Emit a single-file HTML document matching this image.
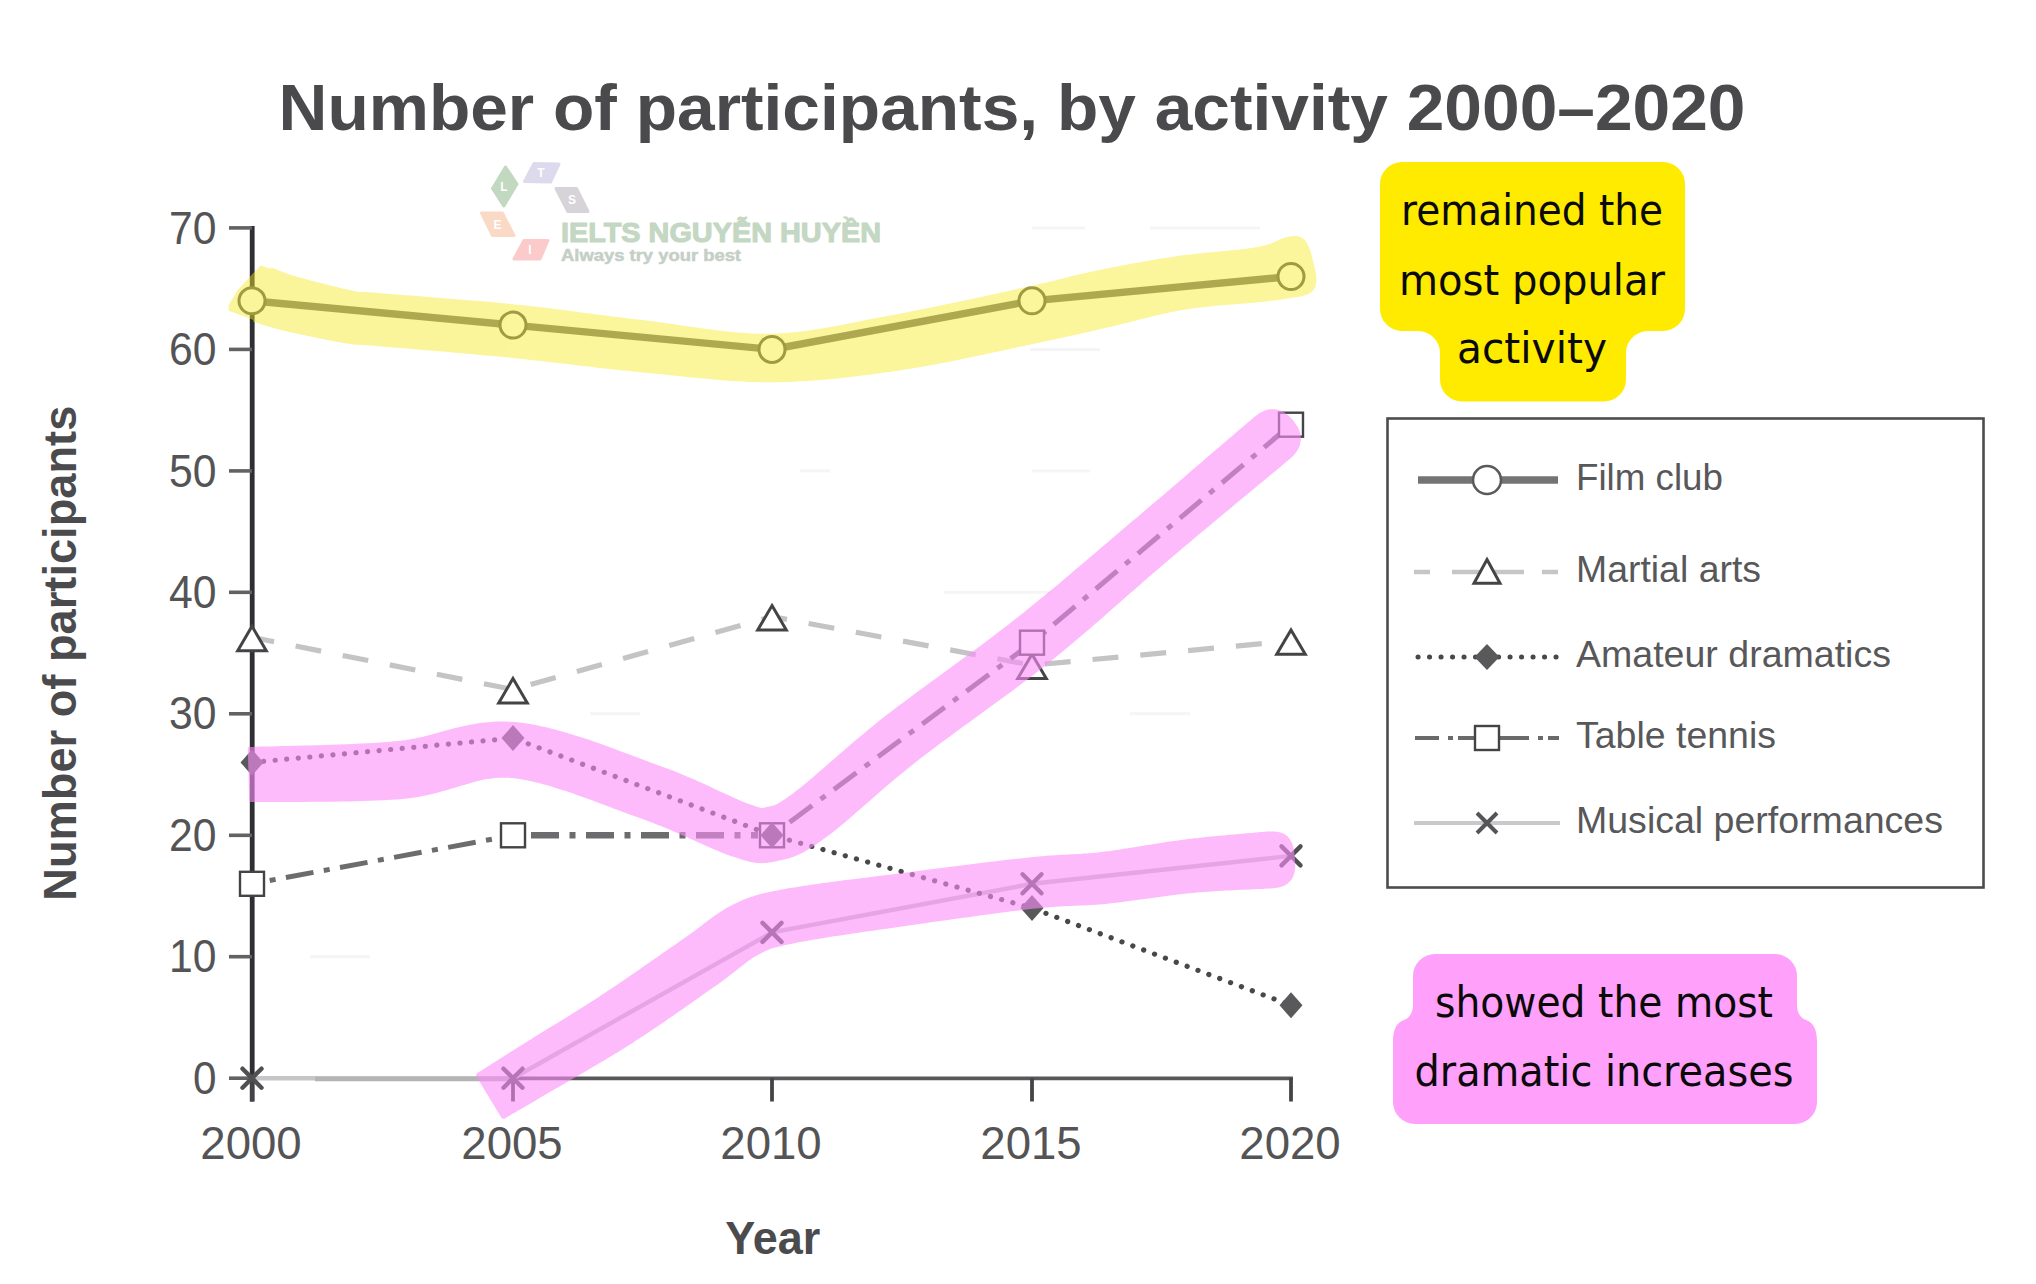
<!DOCTYPE html><html><head><meta charset="utf-8"><title>Number of participants, by activity 2000–2020</title>
<style>html,body{margin:0;padding:0;background:#fff}svg{display:block}text{font-family:"Liberation Sans",sans-serif}</style></head><body>
<svg width="2036" height="1284" viewBox="0 0 2036 1284">
<rect width="2036" height="1284" fill="#fff"/>
<text x="1012" y="130" text-anchor="middle" font-size="65" font-weight="bold" fill="#4a4a4c" textLength="1467" lengthAdjust="spacingAndGlyphs">Number of participants, by activity 2000–2020</text>
<g stroke-linejoin="round" stroke-width="3">
<polygon points="505.5,167 517,184 503.8,206 492.5,188.5" fill="#c3d8c1" stroke="#c3d8c1"/>
<polygon points="534,163.5 559,164 550.5,182 524.5,181.5" fill="#dedaee" stroke="#dedaee"/>
<polygon points="556,188.5 576.5,188.5 588,211.5 567.8,211.5" fill="#d6d4d9" stroke="#d6d4d9"/>
<polygon points="481.5,213 502.3,213 514,235.5 492.5,235.5" fill="#fad9c6" stroke="#fad9c6"/>
<polygon points="524,240.5 548,240.5 540,259 514,259" fill="#fbcaca" stroke="#fbcaca"/>
</g><g font-size="12" fill="#fff" text-anchor="middle" font-weight="bold">
<text x="504" y="191">L</text>
<text x="541" y="177">T</text>
<text x="572" y="204">S</text>
<text x="497.5" y="229">E</text>
<text x="530" y="254">I</text>
</g>
<text x="561" y="242" font-size="28.5" font-weight="bold" fill="#c3d7c2" stroke="#c3d7c2" stroke-width="1.1" stroke-linejoin="round" textLength="320" lengthAdjust="spacingAndGlyphs">IELTS NGUYỄN HUYỀN</text>
<text x="561" y="261" font-size="16" font-weight="bold" fill="#c5cfc6" stroke="#c5cfc6" stroke-width="0.5" textLength="180" lengthAdjust="spacingAndGlyphs">Always try your best</text>
<line x1="1032" x2="1085" y1="227.9" y2="227.9" stroke="#f5f5f5" stroke-width="3"/>
<line x1="1150" x2="1260" y1="227.9" y2="227.9" stroke="#f5f5f5" stroke-width="3"/>
<line x1="1032" x2="1090" y1="470.9" y2="470.9" stroke="#f5f5f5" stroke-width="3"/>
<line x1="944" x2="1052" y1="592.3" y2="592.3" stroke="#f5f5f5" stroke-width="3"/>
<line x1="1130" x2="1190" y1="713.8" y2="713.8" stroke="#f5f5f5" stroke-width="3"/>
<line x1="1030" x2="1100" y1="349.4" y2="349.4" stroke="#f5f5f5" stroke-width="3"/>
<line x1="310" x2="370" y1="956.7" y2="956.7" stroke="#f5f5f5" stroke-width="3"/>
<line x1="590" x2="640" y1="713.8" y2="713.8" stroke="#f5f5f5" stroke-width="3"/>
<line x1="800" x2="830" y1="470.9" y2="470.9" stroke="#f5f5f5" stroke-width="3"/>
<line x1="252.2" x2="252.2" y1="226" y2="1101.5" stroke="#2e2e33" stroke-width="4.8"/>
<line x1="513" x2="1293" y1="1078.4" y2="1078.4" stroke="#58585b" stroke-width="3.6"/>
<line x1="229" x2="252" y1="1078.2" y2="1078.2" stroke="#626266" stroke-width="3.6"/>
<text x="216.5" y="1093.8" text-anchor="end" font-size="46.5" fill="#545456" textLength="23.5" lengthAdjust="spacingAndGlyphs">0</text>
<line x1="229" x2="252" y1="956.7" y2="956.7" stroke="#626266" stroke-width="3.6"/>
<text x="216.5" y="972.3000000000001" text-anchor="end" font-size="46.5" fill="#545456" textLength="47.5" lengthAdjust="spacingAndGlyphs">10</text>
<line x1="229" x2="252" y1="835.3" y2="835.3" stroke="#626266" stroke-width="3.6"/>
<text x="216.5" y="850.9" text-anchor="end" font-size="46.5" fill="#545456" textLength="47.5" lengthAdjust="spacingAndGlyphs">20</text>
<line x1="229" x2="252" y1="713.8" y2="713.8" stroke="#626266" stroke-width="3.6"/>
<text x="216.5" y="729.4" text-anchor="end" font-size="46.5" fill="#545456" textLength="47.5" lengthAdjust="spacingAndGlyphs">30</text>
<line x1="229" x2="252" y1="592.3" y2="592.3" stroke="#626266" stroke-width="3.6"/>
<text x="216.5" y="607.9" text-anchor="end" font-size="46.5" fill="#545456" textLength="47.5" lengthAdjust="spacingAndGlyphs">40</text>
<line x1="229" x2="252" y1="470.9" y2="470.9" stroke="#626266" stroke-width="3.6"/>
<text x="216.5" y="486.5" text-anchor="end" font-size="46.5" fill="#545456" textLength="47.5" lengthAdjust="spacingAndGlyphs">50</text>
<line x1="229" x2="252" y1="349.4" y2="349.4" stroke="#626266" stroke-width="3.6"/>
<text x="216.5" y="365.0" text-anchor="end" font-size="46.5" fill="#545456" textLength="47.5" lengthAdjust="spacingAndGlyphs">60</text>
<line x1="229" x2="252" y1="227.9" y2="227.9" stroke="#626266" stroke-width="3.6"/>
<text x="216.5" y="243.5" text-anchor="end" font-size="46.5" fill="#545456" textLength="47.5" lengthAdjust="spacingAndGlyphs">70</text>
<line x1="252" x2="252" y1="1078" y2="1101.5" stroke="#444448" stroke-width="3.8"/>
<text x="251" y="1158.8" text-anchor="middle" font-size="45.6" fill="#545456">2000</text>
<line x1="513" x2="513" y1="1078" y2="1101.5" stroke="#444448" stroke-width="3.8"/>
<text x="512" y="1158.8" text-anchor="middle" font-size="45.6" fill="#545456">2005</text>
<line x1="772" x2="772" y1="1078" y2="1101.5" stroke="#444448" stroke-width="3.8"/>
<text x="771" y="1158.8" text-anchor="middle" font-size="45.6" fill="#545456">2010</text>
<line x1="1032" x2="1032" y1="1078" y2="1101.5" stroke="#444448" stroke-width="3.8"/>
<text x="1031" y="1158.8" text-anchor="middle" font-size="45.6" fill="#545456">2015</text>
<line x1="1291" x2="1291" y1="1078" y2="1101.5" stroke="#444448" stroke-width="3.8"/>
<text x="1290" y="1158.8" text-anchor="middle" font-size="45.6" fill="#545456">2020</text>
<text x="772.8" y="1253.6" text-anchor="middle" font-size="46.5" font-weight="bold" fill="#4b4b4e" textLength="95" lengthAdjust="spacingAndGlyphs">Year</text>
<text transform="translate(75.8,653.2) rotate(-90)" text-anchor="middle" font-size="46.5" font-weight="bold" fill="#4b4b4e" textLength="495" lengthAdjust="spacingAndGlyphs">Number of participants</text>
<polyline points="252,1078.2 513,1078.2 772,932.4 1032,883.8 1291,855.9" fill="none" stroke="#c6c6c8" stroke-width="4.4"/>
<line x1="315" x2="513" y1="1079" y2="1079" stroke="#b4b4b6" stroke-width="4.6"/>
<polyline points="252,637.3 513,689.5 772,616.6 1032,665.2 1291,640.9" fill="none" stroke="#c4c4c6" stroke-width="5.2" stroke-dasharray="26 22" stroke-dashoffset="3.5"/>
<polyline points="252,762.4 513,738.1 772,835.3 1032,908.1 1291,1005.3" fill="none" stroke="#48484b" stroke-width="5.2" stroke-dasharray="0.1 11.5" stroke-linecap="round"/>
<polyline points="252,883.8 513,835.3" fill="none" stroke="#6c6c6f" stroke-width="5" stroke-dasharray="28 10.5 6 10.5" stroke-dashoffset="20.5"/>
<polyline points="772,835.3 1032,642.7 1291,424.7" fill="none" stroke="#6c6c6f" stroke-width="5" stroke-dasharray="28 10.5 6 10.5" stroke-dashoffset="-22"/>
<line x1="527" x2="758" y1="835.3" y2="835.3" stroke="#6c6c6f" stroke-width="6.4" stroke-dasharray="28 10.5 6 10.5" stroke-dashoffset="-4"/>
<polyline points="252,300.8 513,325.1 772,349.4 1032,300.8 1291,276.5" fill="none" stroke="#747477" stroke-width="7.4"/>
<path d="M242.5,1068.7L261.5,1087.7M242.5,1087.7L261.5,1068.7" stroke="#505053" stroke-width="4.4" stroke-linecap="round" fill="none"/>
<path d="M503.5,1068.7L522.5,1087.7M503.5,1087.7L522.5,1068.7" stroke="#505053" stroke-width="4.4" stroke-linecap="round" fill="none"/>
<path d="M762.5,922.9L781.5,941.9M762.5,941.9L781.5,922.9" stroke="#505053" stroke-width="4.4" stroke-linecap="round" fill="none"/>
<path d="M1022.5,874.3L1041.5,893.3M1022.5,893.3L1041.5,874.3" stroke="#505053" stroke-width="4.4" stroke-linecap="round" fill="none"/>
<path d="M1281.5,846.4L1300.5,865.4M1281.5,865.4L1300.5,846.4" stroke="#505053" stroke-width="4.4" stroke-linecap="round" fill="none"/>
<polygon points="252,626.3 266.3,650.6999999999999 237.7,650.6999999999999" fill="#fff" stroke="#444447" stroke-width="3"/>
<polygon points="513,678.5 527.3,702.9 498.7,702.9" fill="#fff" stroke="#444447" stroke-width="3"/>
<polygon points="772,605.6 786.3,630.0 757.7,630.0" fill="#fff" stroke="#444447" stroke-width="3"/>
<polygon points="1032,654.2 1046.3,678.6 1017.7,678.6" fill="#fff" stroke="#444447" stroke-width="3"/>
<polygon points="1291,629.9 1305.3,654.3 1276.7,654.3" fill="#fff" stroke="#444447" stroke-width="3"/>
<rect x="240" y="871.8" width="24" height="24" fill="#fff" stroke="#444446" stroke-width="2.4"/>
<rect x="501" y="823.3" width="24" height="24" fill="#fff" stroke="#444446" stroke-width="2.4"/>
<rect x="760" y="823.3" width="24" height="24" fill="#fff" stroke="#444446" stroke-width="2.4"/>
<rect x="1020" y="630.7" width="24" height="24" fill="#fff" stroke="#444446" stroke-width="2.4"/>
<rect x="1279" y="412.7" width="24" height="24" fill="#fff" stroke="#444446" stroke-width="2.4"/>
<polygon points="252,749.4 263.5,762.4 252,775.4 240.5,762.4" fill="#59595c"/>
<polygon points="513,725.1 524.5,738.1 513,751.1 501.5,738.1" fill="#59595c"/>
<polygon points="772,822.3 783.5,835.3 772,848.3 760.5,835.3" fill="#59595c"/>
<polygon points="1032,895.1 1043.5,908.1 1032,921.1 1020.5,908.1" fill="#59595c"/>
<polygon points="1291,992.3 1302.5,1005.3 1291,1018.3 1279.5,1005.3" fill="#59595c"/>
<circle cx="252" cy="300.8" r="13" fill="#fff" stroke="#5a5a5d" stroke-width="3"/>
<circle cx="513" cy="325.1" r="13" fill="#fff" stroke="#5a5a5d" stroke-width="3"/>
<circle cx="772" cy="349.4" r="13" fill="#fff" stroke="#5a5a5d" stroke-width="3"/>
<circle cx="1032" cy="300.8" r="13" fill="#fff" stroke="#5a5a5d" stroke-width="3"/>
<circle cx="1291" cy="276.5" r="13" fill="#fff" stroke="#5a5a5d" stroke-width="3"/>
<g opacity="0.45" fill="#f6e921"><path d="M253.0,321.5 L253.4,321.7 L253.8,321.8 L254.3,321.9 L255.0,322.1 L255.7,322.4 L256.5,322.7 L257.4,323.0 L258.4,323.3 L259.4,323.6 L260.5,324.0 L261.7,324.4 L263.0,324.8 L264.3,325.3 L265.7,325.7 L267.1,326.1 L268.7,326.6 L270.2,327.1 L271.9,327.5 L273.6,328.0 L275.4,328.5 L277.2,329.0 L279.1,329.5 L281.0,330.0 L283.0,330.5 L285.1,330.9 L287.2,331.4 L289.4,331.9 L291.8,332.5 L294.3,333.0 L296.9,333.6 L299.5,334.2 L302.2,334.7 L305.0,335.3 L307.8,335.9 L310.6,336.5 L313.5,337.1 L316.3,337.7 L319.1,338.3 L321.9,338.8 L324.7,339.4 L327.4,339.9 L330.1,340.5 L332.7,341.0 L335.2,341.4 L337.6,341.9 L339.9,342.3 L342.1,342.7 L344.2,343.1 L345.9,343.4 L347.4,343.6 L348.6,343.8 L349.7,344.0 L350.8,344.1 L351.8,344.3 L352.9,344.4 L354.1,344.6 L355.3,344.7 L356.5,344.7 L357.5,344.8 L358.2,344.8 L358.6,344.8 L359.0,344.8 L359.5,344.8 L360.1,344.8 L360.9,344.9 L361.9,344.9 L363.2,345.0 L364.8,345.1 L366.7,345.2 L369.0,345.4 L371.7,345.6 L374.8,345.9 L378.4,346.2 L382.3,346.6 L386.6,346.9 L391.2,347.3 L396.1,347.7 L401.3,348.1 L406.6,348.6 L412.2,349.1 L418.0,349.5 L423.9,350.0 L429.9,350.5 L436.1,351.1 L442.3,351.6 L448.6,352.1 L454.9,352.7 L461.3,353.2 L467.6,353.8 L473.9,354.3 L480.1,354.9 L486.2,355.4 L492.3,356.0 L498.1,356.5 L503.8,357.1 L509.3,357.6 L514.7,358.2 L520.0,358.7 L525.4,359.3 L530.7,359.9 L536.0,360.4 L541.3,361.0 L546.5,361.7 L551.8,362.3 L557.1,362.9 L562.4,363.5 L567.6,364.1 L572.9,364.8 L578.2,365.4 L583.5,366.0 L588.8,366.6 L594.1,367.3 L599.4,367.9 L604.8,368.5 L610.1,369.1 L615.5,369.7 L620.9,370.2 L626.4,370.8 L631.8,371.3 L637.3,371.9 L642.6,372.4 L647.9,372.9 L653.3,373.4 L658.7,374.0 L664.1,374.6 L669.6,375.2 L675.2,375.8 L680.7,376.3 L686.3,376.9 L691.9,377.5 L697.5,378.1 L703.2,378.6 L708.9,379.1 L714.6,379.6 L720.3,380.1 L726.0,380.6 L731.8,381.0 L737.6,381.3 L743.3,381.6 L749.1,381.9 L754.9,382.1 L760.7,382.2 L766.6,382.3 L772.4,382.2 L778.1,382.2 L783.8,382.0 L789.5,381.9 L795.2,381.6 L800.8,381.3 L806.4,381.0 L812.0,380.6 L817.6,380.2 L823.1,379.7 L828.7,379.3 L834.2,378.7 L839.7,378.2 L845.1,377.6 L850.6,376.9 L856.0,376.3 L861.5,375.6 L866.9,374.9 L872.3,374.2 L877.7,373.5 L883.1,372.7 L888.5,372.0 L893.8,371.2 L899.2,370.4 L904.6,369.6 L910.2,368.8 L916.0,367.8 L921.8,366.8 L927.7,365.8 L933.7,364.7 L939.7,363.6 L945.7,362.4 L951.7,361.2 L957.7,360.0 L963.7,358.8 L969.7,357.5 L975.7,356.3 L981.5,355.1 L987.3,353.8 L993.0,352.6 L998.6,351.4 L1004.1,350.2 L1009.5,349.0 L1014.7,347.9 L1019.7,346.8 L1024.6,345.7 L1029.2,344.7 L1033.7,343.8 L1038.0,342.9 L1042.0,342.0 L1045.9,341.2 L1049.6,340.4 L1053.1,339.7 L1056.4,339.0 L1059.6,338.3 L1062.6,337.7 L1065.5,337.0 L1068.2,336.4 L1070.9,335.8 L1073.5,335.3 L1075.9,334.7 L1078.4,334.2 L1080.8,333.6 L1083.1,333.1 L1085.5,332.6 L1087.9,332.0 L1090.3,331.5 L1092.7,330.9 L1095.2,330.3 L1097.8,329.8 L1100.4,329.1 L1103.2,328.5 L1106.2,327.8 L1109.3,327.1 L1112.5,326.4 L1115.7,325.6 L1118.9,324.8 L1122.1,324.0 L1125.4,323.2 L1128.7,322.4 L1132.0,321.5 L1135.3,320.7 L1138.6,319.8 L1141.9,319.0 L1145.2,318.2 L1148.5,317.4 L1151.8,316.5 L1155.1,315.7 L1158.4,315.0 L1161.7,314.2 L1164.9,313.5 L1168.2,312.8 L1171.4,312.1 L1174.7,311.4 L1177.9,310.8 L1181.0,310.2 L1184.1,309.7 L1187.3,309.2 L1190.4,308.7 L1193.7,308.3 L1197.1,307.8 L1200.5,307.4 L1204.0,307.0 L1207.5,306.7 L1211.1,306.3 L1214.6,306.0 L1218.2,305.6 L1221.8,305.3 L1225.3,305.0 L1228.9,304.7 L1232.4,304.4 L1235.8,304.2 L1239.2,303.9 L1242.6,303.6 L1245.9,303.4 L1249.1,303.1 L1252.2,302.9 L1255.2,302.6 L1258.2,302.3 L1261.1,302.0 L1263.8,301.7 L1266.4,301.4 L1268.9,301.1 L1271.3,300.8 L1273.7,300.5 L1275.9,300.2 L1278.0,299.9 L1280.0,299.7 L1282.0,299.4 L1283.9,299.1 L1285.7,298.8 L1287.3,298.5 L1289.0,298.3 L1290.5,298.0 L1291.9,297.8 L1293.2,297.6 L1294.5,297.4 L1295.6,297.2 L1296.6,297.0 L1297.5,296.9 L1298.3,296.8 L1298.9,296.7 L1299.3,296.7 L1299.6,296.7 L1300.1,296.7 L1307.4,294.5 L1311.0,292.6 L1313.5,290.1 L1315.2,287.0 L1316.1,283.3 L1316.4,278.7 L1315.8,273.0 L1313.4,262.1 L1310.6,251.4 L1308.5,246.0 L1306.3,242.0 L1303.8,239.1 L1300.9,237.2 L1297.5,236.1 L1293.4,235.9 L1285.9,237.3 L1285.0,237.6 L1283.8,238.0 L1282.7,238.4 L1281.6,238.8 L1280.7,239.2 L1279.7,239.6 L1278.8,240.0 L1277.9,240.5 L1277.0,240.9 L1276.0,241.3 L1275.1,241.7 L1274.0,242.2 L1273.0,242.6 L1271.9,243.0 L1270.7,243.5 L1269.4,243.9 L1268.1,244.4 L1266.7,244.8 L1265.2,245.2 L1263.6,245.7 L1261.9,246.1 L1260.1,246.5 L1258.2,246.9 L1256.2,247.3 L1254.1,247.6 L1251.8,248.0 L1249.2,248.3 L1246.6,248.7 L1243.7,249.0 L1240.7,249.3 L1237.6,249.7 L1234.4,250.0 L1231.1,250.3 L1227.6,250.7 L1224.1,251.0 L1220.6,251.4 L1216.9,251.7 L1213.2,252.1 L1209.5,252.4 L1205.8,252.8 L1202.0,253.2 L1198.2,253.6 L1194.4,254.0 L1190.7,254.4 L1186.9,254.8 L1183.2,255.3 L1179.5,255.8 L1175.9,256.3 L1172.3,256.9 L1168.7,257.4 L1165.2,258.0 L1161.6,258.5 L1158.1,259.1 L1154.5,259.7 L1150.9,260.3 L1147.4,260.9 L1143.9,261.5 L1140.3,262.2 L1136.8,262.8 L1133.3,263.4 L1129.9,264.1 L1126.4,264.7 L1123.0,265.4 L1119.6,266.0 L1116.2,266.7 L1112.9,267.3 L1109.6,268.0 L1106.4,268.6 L1103.2,269.3 L1100.0,269.9 L1096.9,270.5 L1093.8,271.2 L1090.8,271.8 L1087.8,272.4 L1085.0,273.1 L1082.2,273.7 L1079.6,274.3 L1077.1,274.9 L1074.6,275.5 L1072.1,276.1 L1069.7,276.7 L1067.3,277.3 L1065.0,277.9 L1062.6,278.5 L1060.1,279.1 L1057.6,279.7 L1055.1,280.4 L1052.5,281.0 L1049.7,281.7 L1046.9,282.4 L1043.8,283.1 L1040.7,283.8 L1037.3,284.6 L1033.8,285.4 L1030.1,286.2 L1026.0,287.1 L1021.7,288.1 L1017.2,289.1 L1012.5,290.1 L1007.6,291.2 L1002.5,292.3 L997.3,293.4 L992.0,294.6 L986.6,295.8 L981.0,297.0 L975.3,298.2 L969.6,299.4 L963.8,300.6 L958.0,301.9 L952.2,303.1 L946.3,304.3 L940.4,305.5 L934.6,306.7 L928.8,307.9 L923.0,309.1 L917.3,310.2 L911.7,311.3 L906.1,312.4 L900.7,313.4 L895.4,314.4 L890.0,315.4 L884.6,316.4 L879.2,317.5 L873.9,318.5 L868.6,319.6 L863.3,320.6 L858.1,321.7 L852.9,322.7 L847.7,323.8 L842.6,324.8 L837.4,325.8 L832.3,326.7 L827.2,327.6 L822.2,328.5 L817.1,329.3 L812.0,330.1 L807.0,330.8 L801.9,331.5 L796.9,332.0 L791.8,332.5 L786.8,333.0 L781.7,333.3 L776.7,333.6 L771.6,333.8 L766.6,333.8 L761.5,333.8 L756.4,333.7 L751.2,333.4 L746.0,333.1 L740.8,332.8 L735.6,332.3 L730.3,331.8 L724.9,331.2 L719.6,330.6 L714.2,330.0 L708.8,329.3 L703.4,328.5 L697.9,327.7 L692.5,327.0 L687.0,326.2 L681.5,325.4 L676.0,324.6 L670.5,323.8 L664.9,323.0 L659.4,322.2 L653.8,321.5 L648.3,320.8 L642.7,320.1 L637.4,319.5 L632.1,318.9 L626.8,318.3 L621.5,317.6 L616.3,317.0 L611.0,316.3 L605.8,315.6 L600.5,314.9 L595.3,314.2 L590.0,313.6 L584.7,312.9 L579.5,312.2 L574.2,311.5 L568.9,310.8 L563.6,310.1 L558.3,309.4 L552.9,308.8 L547.5,308.1 L542.1,307.4 L536.7,306.8 L531.2,306.2 L525.8,305.6 L520.2,305.0 L514.7,304.4 L509.0,303.8 L503.2,303.2 L497.2,302.7 L491.1,302.1 L484.9,301.6 L478.6,301.0 L472.2,300.5 L465.8,299.9 L459.4,299.4 L453.0,298.9 L446.7,298.4 L440.4,297.9 L434.2,297.4 L428.2,296.9 L422.2,296.5 L416.5,296.0 L410.9,295.6 L405.5,295.2 L400.4,294.8 L395.5,294.4 L391.0,294.0 L386.7,293.7 L382.8,293.4 L379.2,293.1 L376.0,292.8 L373.0,292.6 L370.5,292.4 L368.2,292.3 L366.2,292.2 L364.5,292.1 L363.0,292.0 L361.7,292.0 L360.6,292.0 L359.6,292.0 L358.8,292.0 L358.3,292.0 L358.2,292.0 L358.4,292.0 L358.8,292.0 L359.3,292.0 L359.6,292.1 L359.6,292.1 L359.3,292.0 L358.7,291.9 L357.9,291.7 L356.8,291.5 L355.4,291.3 L353.8,290.9 L352.1,290.6 L350.2,290.2 L348.2,289.7 L346.0,289.3 L343.7,288.7 L341.3,288.2 L338.8,287.6 L336.2,287.0 L333.6,286.3 L331.0,285.7 L328.3,285.0 L325.5,284.3 L322.8,283.6 L320.1,282.9 L317.5,282.3 L314.8,281.6 L312.2,280.9 L309.7,280.2 L307.3,279.6 L305.0,279.0 L302.8,278.3 L300.7,277.8 L298.7,277.2 L297.0,276.7 L295.4,276.3 L293.9,275.8 L292.5,275.4 L291.1,274.9 L289.7,274.5 L288.4,274.1 L287.2,273.6 L286.0,273.2 L284.9,272.8 L283.7,272.4 L282.7,272.0 L281.7,271.6 L280.7,271.2 L279.7,270.8 L278.8,270.5 L277.9,270.1 L277.0,269.8 L276.1,269.4 L275.3,269.1 L274.4,268.7 L273.6,268.4 L272.7,268.1 L271.8,267.7 L271.0,267.5Z"/><path d="M285,296 L282,272.5 L260.6,265.5 L249.7,277 L237,291 L228.7,305 L228.7,310.7 L243.5,316 L259,322.4 L266,325 Z"/></g>
<g opacity="0.6" fill="#fc8efa"><path d="M250.7,800.5 L254.0,800.4 L257.8,800.4 L262.2,800.4 L267.1,800.4 L272.4,800.4 L278.1,800.4 L284.2,800.4 L290.6,800.4 L297.2,800.4 L304.1,800.4 L311.2,800.3 L318.4,800.3 L325.8,800.3 L333.2,800.2 L340.6,800.1 L348.0,799.9 L355.4,799.8 L362.7,799.6 L369.8,799.3 L376.8,799.0 L383.6,798.7 L390.2,798.3 L396.5,797.9 L402.7,797.4 L408.8,796.7 L414.8,795.9 L420.7,794.9 L426.3,793.7 L431.7,792.5 L436.9,791.2 L442.0,789.9 L446.8,788.5 L451.5,787.1 L456.0,785.8 L460.4,784.4 L464.6,783.2 L468.7,782.0 L472.7,780.9 L476.6,779.8 L480.5,778.9 L484.2,778.1 L487.9,777.4 L491.6,776.9 L495.3,776.5 L499.0,776.2 L502.8,776.1 L506.7,776.2 L510.7,776.4 L515.0,776.8 L519.6,777.5 L524.4,778.3 L529.4,779.3 L534.7,780.5 L540.0,781.8 L545.5,783.3 L551.2,784.9 L556.9,786.7 L562.6,788.5 L568.5,790.4 L574.3,792.4 L580.2,794.5 L586.1,796.6 L591.9,798.7 L597.7,800.8 L603.5,803.0 L609.2,805.1 L614.8,807.3 L620.3,809.3 L625.7,811.4 L631.0,813.3 L636.2,815.2 L641.1,816.9 L645.6,818.6 L649.9,820.2 L654.3,821.8 L658.5,823.5 L662.7,825.2 L666.9,826.9 L671.0,828.6 L675.1,830.4 L679.1,832.1 L683.0,833.8 L686.9,835.5 L690.7,837.3 L694.4,838.9 L698.1,840.6 L701.7,842.2 L705.2,843.8 L708.7,845.4 L712.1,846.9 L715.5,848.3 L718.8,849.7 L722.0,851.0 L725.2,852.3 L728.4,853.5 L731.4,854.5 L734.0,855.4 L736.4,856.2 L738.6,856.9 L740.7,857.6 L742.7,858.2 L744.6,858.8 L746.5,859.4 L748.4,859.9 L750.3,860.3 L752.3,860.7 L754.3,861.1 L756.4,861.4 L758.6,861.6 L760.7,861.7 L762.9,861.6 L765.0,861.5 L766.9,861.4 L768.7,861.1 L770.4,860.9 L771.9,860.6 L773.4,860.3 L774.7,860.0 L776.1,859.7 L777.5,859.4 L778.9,859.1 L780.3,858.8 L781.8,858.5 L783.4,858.1 L785.0,857.7 L786.7,857.3 L788.5,856.8 L790.4,856.2 L792.3,855.5 L794.2,854.8 L796.2,854.0 L798.2,853.1 L800.2,852.1 L802.3,851.1 L804.3,850.0 L806.4,848.8 L808.5,847.5 L810.7,846.2 L812.9,844.8 L815.2,843.2 L817.6,841.6 L820.1,839.8 L822.7,837.9 L825.5,835.9 L828.5,833.6 L831.6,831.2 L834.8,828.7 L838.0,826.0 L841.3,823.3 L844.7,820.5 L848.1,817.6 L851.6,814.6 L855.1,811.5 L858.8,808.3 L862.5,805.1 L866.2,801.8 L870.1,798.5 L873.9,795.1 L877.9,791.6 L881.9,788.2 L886.0,784.7 L890.1,781.2 L894.3,777.6 L898.6,774.1 L902.9,770.5 L907.2,767.0 L911.6,763.5 L916.0,760.0 L920.6,756.4 L925.4,752.8 L930.3,749.1 L935.3,745.3 L940.5,741.4 L945.8,737.5 L951.3,733.5 L956.8,729.4 L962.4,725.4 L968.1,721.2 L973.8,717.1 L979.6,712.9 L985.4,708.6 L991.2,704.4 L997.1,700.1 L1002.9,695.8 L1008.8,691.5 L1014.6,687.2 L1020.3,682.9 L1026.1,678.5 L1031.7,674.2 L1037.3,669.9 L1042.8,665.6 L1048.2,661.4 L1053.4,657.1 L1058.6,652.9 L1063.8,648.7 L1068.9,644.4 L1073.9,640.2 L1078.9,635.9 L1083.9,631.7 L1088.8,627.5 L1093.7,623.2 L1098.6,619.0 L1103.4,614.8 L1108.2,610.5 L1113.0,606.3 L1117.8,602.1 L1122.6,597.9 L1127.4,593.7 L1132.2,589.5 L1137.0,585.3 L1141.8,581.1 L1146.6,576.9 L1151.5,572.7 L1156.3,568.5 L1161.2,564.3 L1166.2,560.1 L1171.3,555.8 L1176.6,551.3 L1182.1,546.7 L1187.7,542.0 L1193.4,537.1 L1199.3,532.2 L1205.2,527.3 L1211.2,522.3 L1217.1,517.4 L1223.1,512.4 L1229.0,507.5 L1234.8,502.7 L1240.5,497.9 L1246.1,493.3 L1251.5,488.8 L1256.8,484.4 L1261.8,480.3 L1266.6,476.3 L1271.1,472.5 L1275.4,469.0 L1279.3,465.8 L1282.8,462.8 L1286.0,460.2 L1288.8,457.9 L1293.4,453.4 L1296.5,449.2 L1298.4,444.8 L1299.3,440.3 L1299.2,435.7 L1298.0,431.1 L1295.7,426.5 L1291.9,421.2 L1287.4,416.6 L1283.2,413.5 L1278.8,411.6 L1274.3,410.7 L1269.7,410.8 L1265.1,412.0 L1260.5,414.3 L1255.2,418.1 L1252.5,420.5 L1249.4,423.2 L1245.9,426.2 L1242.0,429.5 L1237.8,433.0 L1233.4,436.9 L1228.6,440.9 L1223.7,445.2 L1218.5,449.6 L1213.1,454.2 L1207.6,459.0 L1202.0,463.8 L1196.2,468.7 L1190.4,473.7 L1184.5,478.8 L1178.6,483.8 L1172.7,488.8 L1166.9,493.8 L1161.1,498.8 L1155.3,503.7 L1149.7,508.4 L1144.3,513.1 L1139.0,517.6 L1133.8,521.9 L1128.8,526.2 L1123.8,530.4 L1118.9,534.7 L1113.9,538.9 L1109.0,543.1 L1104.1,547.2 L1099.2,551.4 L1094.4,555.6 L1089.5,559.7 L1084.7,563.8 L1079.8,567.9 L1075.0,572.0 L1070.2,576.1 L1065.3,580.2 L1060.5,584.3 L1055.6,588.3 L1050.7,592.4 L1045.8,596.4 L1040.9,600.5 L1036.0,604.5 L1031.0,608.5 L1026.0,612.6 L1020.9,616.6 L1015.8,620.6 L1010.7,624.7 L1005.4,628.7 L1000.1,632.8 L994.6,637.0 L989.0,641.2 L983.4,645.4 L977.7,649.6 L972.0,653.8 L966.3,658.0 L960.5,662.3 L954.7,666.5 L948.9,670.7 L943.1,674.9 L937.4,679.1 L931.7,683.3 L926.0,687.4 L920.4,691.5 L914.9,695.6 L909.5,699.6 L904.1,703.6 L898.9,707.5 L893.8,711.4 L888.8,715.3 L884.0,719.0 L879.2,722.8 L874.5,726.6 L869.9,730.3 L865.4,734.1 L860.9,737.8 L856.5,741.5 L852.2,745.1 L848.0,748.8 L843.9,752.3 L839.8,755.8 L835.9,759.3 L832.0,762.6 L828.3,765.9 L824.6,769.1 L821.1,772.2 L817.6,775.2 L814.3,778.1 L811.0,780.8 L808.0,783.4 L805.0,785.9 L802.1,788.2 L799.5,790.3 L796.9,792.3 L794.5,794.1 L792.1,795.9 L789.9,797.5 L787.9,798.9 L786.0,800.2 L784.3,801.3 L782.7,802.3 L781.4,803.2 L780.1,803.9 L779.0,804.6 L778.1,805.1 L777.2,805.5 L776.5,805.8 L775.9,806.1 L775.3,806.4 L774.8,806.6 L774.2,806.8 L773.6,806.9 L773.0,807.1 L772.2,807.3 L771.4,807.5 L770.4,807.7 L769.3,808.0 L768.0,808.3 L766.5,808.6 L765.1,808.9 L763.9,809.2 L762.9,809.4 L762.1,809.5 L761.5,809.6 L761.2,809.7 L761.0,809.7 L761.1,809.7 L761.3,809.7 L761.6,809.7 L761.9,809.7 L762.1,809.7 L762.1,809.8 L762.0,809.7 L761.7,809.7 L761.1,809.5 L760.3,809.3 L759.3,809.0 L758.0,808.6 L756.6,808.2 L754.9,807.6 L753.0,807.0 L750.8,806.2 L748.6,805.5 L746.4,804.7 L744.1,803.8 L741.7,802.8 L739.0,801.7 L736.2,800.4 L733.2,799.1 L730.1,797.7 L726.8,796.2 L723.4,794.6 L719.9,793.0 L716.2,791.3 L712.5,789.5 L708.6,787.7 L704.6,785.8 L700.4,784.0 L696.2,782.1 L691.9,780.2 L687.4,778.3 L682.9,776.3 L678.3,774.4 L673.5,772.5 L668.7,770.7 L663.8,768.8 L658.9,767.1 L654.2,765.3 L649.3,763.6 L644.2,761.7 L638.9,759.7 L633.5,757.6 L627.8,755.5 L622.0,753.3 L616.1,751.2 L610.1,748.9 L604.0,746.7 L597.8,744.5 L591.6,742.3 L585.2,740.2 L578.9,738.1 L572.5,736.1 L566.1,734.2 L559.7,732.4 L553.3,730.6 L546.9,729.0 L540.5,727.6 L534.2,726.3 L527.9,725.2 L521.6,724.3 L515.3,723.6 L509.1,723.2 L502.9,723.0 L496.9,723.1 L491.1,723.4 L485.4,723.9 L479.9,724.6 L474.6,725.4 L469.4,726.4 L464.3,727.4 L459.4,728.6 L454.6,729.8 L450.0,731.0 L445.4,732.2 L440.9,733.5 L436.6,734.7 L432.2,735.9 L427.9,737.0 L423.6,738.1 L419.4,739.0 L415.1,740.0 L410.8,740.8 L406.4,741.5 L402.0,742.1 L397.3,742.6 L392.1,743.1 L386.4,743.5 L380.4,744.0 L374.0,744.4 L367.4,744.7 L360.5,745.1 L353.5,745.4 L346.4,745.7 L339.2,746.0 L331.9,746.2 L324.7,746.5 L317.5,746.7 L310.3,746.9 L303.4,747.1 L296.5,747.3 L289.9,747.4 L283.6,747.6 L277.5,747.7 L271.8,747.9 L266.4,748.0 L261.4,748.1 L256.9,748.3 L252.8,748.4 L249.3,748.5Z" stroke="#fc8efa" stroke-width="3" stroke-linejoin="round"/><path d="M503.7,1115.6 L504.8,1114.9 L506.0,1114.3 L507.3,1113.5 L508.7,1112.7 L510.2,1111.8 L511.8,1110.8 L513.6,1109.9 L515.4,1108.8 L517.2,1107.7 L519.2,1106.6 L521.3,1105.4 L523.4,1104.1 L525.6,1102.9 L527.8,1101.6 L530.1,1100.2 L532.5,1098.8 L534.9,1097.4 L537.3,1096.0 L539.8,1094.5 L542.4,1093.0 L544.9,1091.5 L547.5,1090.0 L550.1,1088.5 L552.7,1086.9 L555.4,1085.4 L558.1,1083.8 L560.9,1082.1 L563.8,1080.5 L566.8,1078.7 L569.8,1077.0 L572.9,1075.2 L576.1,1073.4 L579.3,1071.5 L582.6,1069.6 L585.9,1067.7 L589.2,1065.7 L592.6,1063.7 L596.1,1061.7 L599.5,1059.7 L603.0,1057.6 L606.5,1055.5 L610.0,1053.4 L613.5,1051.3 L617.0,1049.1 L620.5,1047.0 L624.0,1044.8 L627.4,1042.6 L630.9,1040.4 L634.4,1038.1 L637.9,1035.8 L641.5,1033.4 L645.2,1031.0 L648.9,1028.5 L652.6,1026.0 L656.3,1023.5 L660.1,1020.9 L663.9,1018.4 L667.6,1015.8 L671.4,1013.2 L675.1,1010.6 L678.8,1008.0 L682.4,1005.5 L686.0,1003.0 L689.6,1000.5 L693.0,998.1 L696.4,995.7 L699.7,993.4 L702.9,991.1 L706.0,988.9 L709.0,986.8 L711.8,984.8 L714.6,982.9 L717.3,981.0 L720.0,979.1 L722.5,977.2 L724.9,975.4 L727.2,973.7 L729.4,972.0 L731.4,970.4 L733.4,968.8 L735.3,967.4 L737.0,965.9 L738.7,964.6 L740.3,963.3 L741.9,962.1 L743.3,961.0 L744.8,959.9 L746.1,958.9 L747.4,957.9 L748.7,957.0 L750.0,956.1 L751.2,955.3 L752.5,954.5 L753.7,953.7 L755.0,953.0 L756.5,952.2 L758.1,951.4 L759.7,950.6 L761.1,949.8 L762.4,949.2 L763.6,948.6 L764.8,948.1 L765.8,947.6 L766.8,947.1 L767.8,946.8 L768.8,946.4 L769.8,946.0 L770.8,945.7 L771.9,945.3 L773.2,944.9 L774.5,944.5 L776.1,944.1 L777.7,943.7 L779.5,943.3 L781.5,942.8 L783.7,942.3 L786.1,941.8 L788.8,941.3 L791.6,940.7 L794.6,940.1 L797.8,939.4 L801.1,938.8 L804.6,938.2 L808.3,937.5 L812.1,936.8 L816.2,936.2 L820.3,935.5 L824.6,934.8 L829.0,934.1 L833.5,933.4 L838.2,932.7 L842.9,932.0 L847.7,931.3 L852.6,930.5 L857.5,929.8 L862.5,929.1 L867.5,928.4 L872.6,927.7 L877.7,926.9 L882.8,926.2 L887.9,925.5 L893.0,924.7 L898.1,924.0 L903.2,923.3 L908.3,922.5 L913.6,921.8 L919.0,921.0 L924.6,920.2 L930.2,919.4 L936.0,918.6 L941.8,917.8 L947.7,917.0 L953.6,916.1 L959.6,915.3 L965.5,914.5 L971.4,913.7 L977.3,912.9 L983.1,912.1 L988.9,911.3 L994.6,910.6 L1000.1,909.8 L1005.6,909.1 L1010.9,908.4 L1016.0,907.8 L1020.9,907.2 L1025.7,906.6 L1030.2,906.1 L1034.4,905.6 L1038.4,905.2 L1042.2,904.8 L1045.7,904.5 L1049.0,904.2 L1052.2,904.0 L1055.2,903.7 L1058.1,903.6 L1060.9,903.4 L1063.6,903.3 L1066.2,903.1 L1068.7,903.0 L1071.3,902.9 L1073.8,902.8 L1076.4,902.7 L1078.9,902.6 L1081.5,902.5 L1084.2,902.4 L1086.9,902.3 L1089.7,902.1 L1092.6,901.9 L1095.7,901.7 L1098.8,901.5 L1102.1,901.2 L1105.5,900.9 L1109.0,900.5 L1112.5,900.1 L1116.1,899.7 L1119.7,899.3 L1123.4,898.8 L1127.1,898.3 L1130.8,897.8 L1134.5,897.3 L1138.2,896.8 L1142.0,896.3 L1145.7,895.7 L1149.5,895.2 L1153.3,894.7 L1157.0,894.2 L1160.7,893.7 L1164.4,893.2 L1168.1,892.7 L1171.7,892.2 L1175.4,891.8 L1178.9,891.3 L1182.4,890.9 L1185.9,890.5 L1189.3,890.2 L1192.6,889.9 L1196.0,889.6 L1199.4,889.3 L1203.0,889.0 L1206.7,888.7 L1210.4,888.5 L1214.1,888.2 L1217.9,888.0 L1221.7,887.8 L1225.5,887.6 L1229.2,887.4 L1233.0,887.2 L1236.6,887.0 L1240.2,886.8 L1243.7,886.7 L1247.1,886.5 L1250.4,886.4 L1253.6,886.2 L1256.6,886.1 L1259.5,886.0 L1262.1,885.9 L1264.6,885.7 L1266.9,885.6 L1269.0,885.5 L1270.9,885.4 L1278.1,884.6 L1282.5,883.2 L1285.8,881.2 L1288.5,878.6 L1290.4,875.4 L1291.7,871.4 L1292.2,866.4 L1291.9,858.3 L1291.0,850.2 L1289.7,845.4 L1287.9,841.7 L1285.5,838.7 L1282.6,836.5 L1278.9,835.1 L1274.5,834.4 L1267.1,834.6 L1265.4,834.7 L1263.5,834.9 L1261.3,835.1 L1258.9,835.3 L1256.2,835.5 L1253.4,835.8 L1250.4,836.0 L1247.2,836.3 L1243.9,836.6 L1240.4,836.9 L1236.9,837.2 L1233.2,837.5 L1229.5,837.8 L1225.7,838.2 L1221.9,838.5 L1218.0,838.9 L1214.1,839.3 L1210.2,839.6 L1206.3,840.0 L1202.4,840.4 L1198.6,840.9 L1194.8,841.3 L1191.1,841.7 L1187.4,842.1 L1183.8,842.6 L1180.1,843.1 L1176.4,843.6 L1172.6,844.1 L1168.9,844.7 L1165.1,845.3 L1161.4,845.9 L1157.6,846.5 L1153.8,847.1 L1150.0,847.7 L1146.2,848.3 L1142.5,848.9 L1138.8,849.5 L1135.1,850.1 L1131.4,850.7 L1127.7,851.3 L1124.1,851.8 L1120.6,852.4 L1117.1,852.9 L1113.6,853.4 L1110.2,853.9 L1106.9,854.3 L1103.7,854.8 L1100.5,855.1 L1097.5,855.5 L1094.6,855.8 L1091.9,856.0 L1089.2,856.3 L1086.7,856.5 L1084.2,856.6 L1081.7,856.8 L1079.3,856.9 L1076.8,857.1 L1074.4,857.2 L1071.9,857.3 L1069.3,857.4 L1066.7,857.6 L1064.0,857.7 L1061.2,857.8 L1058.3,858.0 L1055.3,858.2 L1052.1,858.4 L1048.8,858.6 L1045.3,858.9 L1041.7,859.2 L1037.9,859.6 L1033.8,859.9 L1029.6,860.4 L1025.1,860.9 L1020.5,861.4 L1015.6,861.9 L1010.6,862.5 L1005.3,863.1 L1000.0,863.7 L994.5,864.4 L988.8,865.1 L983.1,865.8 L977.3,866.5 L971.4,867.2 L965.4,868.0 L959.5,868.7 L953.5,869.5 L947.5,870.2 L941.6,871.0 L935.6,871.7 L929.8,872.5 L924.0,873.2 L918.3,873.9 L912.7,874.7 L907.3,875.4 L902.0,876.1 L896.8,876.7 L891.8,877.4 L886.7,878.0 L881.6,878.7 L876.5,879.3 L871.4,879.9 L866.3,880.6 L861.2,881.2 L856.1,881.9 L851.1,882.5 L846.1,883.1 L841.1,883.8 L836.2,884.4 L831.4,885.0 L826.7,885.7 L822.0,886.3 L817.5,886.9 L813.0,887.5 L808.7,888.2 L804.4,888.8 L800.4,889.4 L796.4,890.1 L792.6,890.7 L788.9,891.3 L785.4,891.9 L782.2,892.5 L779.2,893.1 L776.4,893.6 L773.7,894.1 L771.2,894.6 L768.8,895.1 L766.5,895.6 L764.3,896.2 L762.2,896.7 L760.1,897.2 L758.1,897.8 L756.1,898.3 L754.1,899.0 L752.2,899.6 L750.2,900.3 L748.4,901.0 L746.5,901.7 L744.7,902.5 L742.9,903.3 L741.1,904.1 L739.3,905.0 L737.4,905.9 L735.6,906.8 L733.5,907.8 L731.3,908.9 L729.0,910.2 L726.8,911.4 L724.7,912.7 L722.6,914.0 L720.6,915.3 L718.6,916.6 L716.7,918.0 L714.8,919.3 L713.0,920.6 L711.2,922.0 L709.4,923.3 L707.6,924.7 L705.9,926.0 L704.1,927.4 L702.2,928.8 L700.4,930.2 L698.5,931.6 L696.5,933.1 L694.5,934.6 L692.4,936.2 L690.2,937.7 L687.9,939.4 L685.4,941.1 L682.7,943.0 L679.8,945.0 L676.8,947.1 L673.7,949.2 L670.4,951.5 L667.1,953.8 L663.7,956.1 L660.3,958.6 L656.8,961.0 L653.2,963.5 L649.6,966.0 L645.9,968.5 L642.2,971.1 L638.6,973.6 L634.9,976.2 L631.2,978.7 L627.5,981.2 L623.9,983.7 L620.2,986.2 L616.7,988.6 L613.2,990.9 L609.7,993.2 L606.4,995.5 L603.1,997.6 L599.9,999.7 L596.6,1001.9 L593.3,1004.0 L590.0,1006.1 L586.7,1008.2 L583.4,1010.3 L580.0,1012.4 L576.7,1014.5 L573.3,1016.6 L570.0,1018.7 L566.7,1020.7 L563.4,1022.7 L560.2,1024.7 L556.9,1026.7 L553.8,1028.7 L550.6,1030.6 L547.5,1032.6 L544.4,1034.4 L541.4,1036.3 L538.4,1038.1 L535.5,1039.9 L532.7,1041.7 L529.9,1043.4 L527.3,1045.1 L524.7,1046.7 L522.1,1048.3 L519.6,1049.9 L517.1,1051.5 L514.6,1053.1 L512.1,1054.6 L509.7,1056.1 L507.4,1057.6 L505.1,1059.1 L502.8,1060.5 L500.6,1061.9 L498.5,1063.2 L496.4,1064.5 L494.4,1065.8 L492.5,1067.0 L490.7,1068.2 L488.9,1069.3 L487.3,1070.4 L485.7,1071.4 L484.2,1072.3 L482.8,1073.2 L481.5,1074.0 L480.3,1074.8 L479.3,1075.4Z" stroke="#fc8efa" stroke-width="6" stroke-linejoin="round"/></g>
<rect x="1387.5" y="418.5" width="596" height="469" fill="#fff" stroke="#4c4c4e" stroke-width="2.6"/>
<text x="1576" y="490" font-size="36.5" fill="#58585a" textLength="147" lengthAdjust="spacingAndGlyphs">Film club</text>
<text x="1576" y="582" font-size="36.5" fill="#58585a" textLength="185" lengthAdjust="spacingAndGlyphs">Martial arts</text>
<text x="1576" y="667" font-size="36.5" fill="#58585a" textLength="315" lengthAdjust="spacingAndGlyphs">Amateur dramatics</text>
<text x="1576" y="748" font-size="36.5" fill="#58585a" textLength="200" lengthAdjust="spacingAndGlyphs">Table tennis</text>
<text x="1576" y="833" font-size="36.5" fill="#58585a" textLength="367" lengthAdjust="spacingAndGlyphs">Musical performances</text>
<line x1="1418" x2="1558" y1="480" y2="480" stroke="#747477" stroke-width="7.4"/><circle cx="1487" cy="480" r="14" fill="#fff" stroke="#5a5a5c" stroke-width="2.6"/>
<path d="M1414,572h16M1452,572h72M1542,572h16" stroke="#c6c6c8" stroke-width="4.5" fill="none"/><polygon points="1487,559.5 1500,583.2 1474,583.2" fill="#fff" stroke="#444447" stroke-width="3"/>
<line x1="1418" x2="1560" y1="657" y2="657" stroke="#48484b" stroke-width="5" stroke-dasharray="0.1 11.4" stroke-linecap="round"/><polygon points="1487,644 1499.5,657 1487,670 1474.5,657" fill="#59595c"/>
<path d="M1415,738h24M1448,738h5M1458,738h71M1538,738h5M1548,738h11" stroke="#6a6a6c" stroke-width="4" fill="none"/><rect x="1475" y="726" width="24" height="24" fill="#fff" stroke="#444446" stroke-width="2.4"/>
<line x1="1414" x2="1560" y1="823" y2="823" stroke="#c9c9cb" stroke-width="4"/><path d="M1477,813L1497,833M1477,833L1497,813" stroke="#555557" stroke-width="4" fill="none"/>
<path d="M1402,162 H1663 a22,22 0 0 1 22,22 V309 a22,22 0 0 1 -22,22 H1648 a22,22 0 0 0 -22,22 V379.5 a22,22 0 0 1 -22,22 H1462 a22,22 0 0 1 -22,-22 V353 a22,22 0 0 0 -22,-22 H1402 a22,22 0 0 1 -22,-22 V184 a22,22 0 0 1 22,-22 Z" fill="#ffeb00"/>
<text x="1532" y="225" text-anchor="middle" font-size="42" fill="#0a0a0a" textLength="262" lengthAdjust="spacingAndGlyphs" style="font-family:'DejaVu Sans',sans-serif">remained the</text>
<text x="1532" y="295" text-anchor="middle" font-size="42" fill="#0a0a0a" textLength="266" lengthAdjust="spacingAndGlyphs" style="font-family:'DejaVu Sans',sans-serif">most popular</text>
<text x="1532" y="363.4" text-anchor="middle" font-size="42" fill="#0a0a0a" textLength="150" lengthAdjust="spacingAndGlyphs" style="font-family:'DejaVu Sans',sans-serif">activity</text>
<path d="M1435,954 H1775 a22,22 0 0 1 22,22 V1004 c0,10 4,14 9,16 c8,3 11,10 11,22 V1102 a22,22 0 0 1 -22,22 H1415 a22,22 0 0 1 -22,-22 V1042 c0,-12 3,-19 11,-22 c5,-2 9,-6 9,-16 V976 a22,22 0 0 1 22,-22 Z" fill="#ffa0fa"/>
<text x="1604" y="1017" text-anchor="middle" font-size="42" fill="#0a0a0a" textLength="338" lengthAdjust="spacingAndGlyphs" style="font-family:'DejaVu Sans',sans-serif">showed the most</text>
<text x="1604" y="1086" text-anchor="middle" font-size="42" fill="#0a0a0a" textLength="379" lengthAdjust="spacingAndGlyphs" style="font-family:'DejaVu Sans',sans-serif">dramatic increases</text>
</svg></body></html>
